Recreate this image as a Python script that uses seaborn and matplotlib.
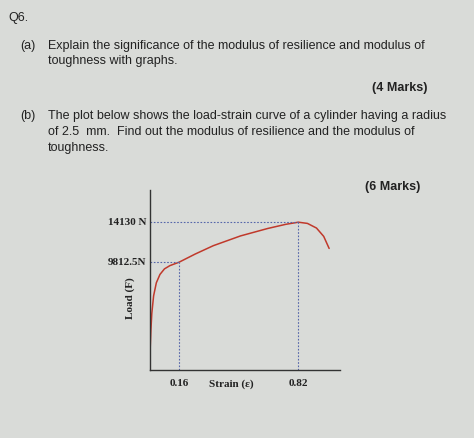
import numpy as np
import matplotlib
matplotlib.use("Agg")
import matplotlib.pyplot as plt
import seaborn as sns

# --- data ---
strain = [0.0, 0.005, 0.01, 0.02, 0.035, 0.055, 0.08, 0.11, 0.16, 0.25, 0.35, 0.5, 0.65, 0.75, 0.82, 0.87, 0.92, 0.96, 0.99]
load = [0, 2500, 4300, 6200, 7600, 8500, 9100, 9450, 9812.5, 10700, 11600, 12650, 13450, 13900, 14130, 14000, 13500, 12600, 11300]
yield_pt = (0.16, 9812.5)
ult_pt = (0.82, 14130)

sns.set_style("white")
plt.rcParams["font.family"] = ["Liberation Sans", "DejaVu Sans"]
bg = "#d9dbd8"

fig = plt.figure(figsize=(4.74, 4.38), dpi=100, facecolor=bg)

# question text
tc = "#222222"
fs = 9
fig.text(8/474, 1-18/438, "Q6.", fontsize=fs, color=tc, va="center")
fig.text(20/474, 1-46/438, "(a)", fontsize=fs, color=tc, va="center")
fig.text(48/474, 1-46/438, "Explain the significance of the modulus of resilience and modulus of",
         fontsize=fs, color=tc, va="center")
fig.text(48/474, 1-61/438, "toughness with graphs.", fontsize=fs, color=tc, va="center")
fig.text(428/474, 1-88/438, "(4 Marks)", fontsize=fs, color=tc, va="center", ha="right", weight="bold")
fig.text(20/474, 1-116/438, "(b)", fontsize=fs, color=tc, va="center")
fig.text(48/474, 1-116/438, "The plot below shows the load-strain curve of a cylinder having a radius",
         fontsize=fs, color=tc, va="center")
fig.text(48/474, 1-132/438, "of 2.5  mm.  Find out the modulus of resilience and the modulus of",
         fontsize=fs, color=tc, va="center")
fig.text(48/474, 1-148/438, "toughness.", fontsize=fs, color=tc, va="center")
fig.text(420/474, 1-187/438, "(6 Marks)", fontsize=fs, color=tc, va="center", ha="right", weight="bold")

# load-strain plot
ax = fig.add_axes([150/474, 1-370/438, 190/474, 180/438])
ax.set_facecolor(bg)
sns.lineplot(x=strain, y=load, ax=ax, color="#c0392b", linewidth=1.1, sort=False)
ax.set_xlim(0, 1.05)
ax.set_ylim(-1800, 17600)
for s in ["top", "right"]:
    ax.spines[s].set_visible(False)
for s in ["left", "bottom"]:
    ax.spines[s].set_color("#333333")
    ax.spines[s].set_linewidth(1.0)
ax.set_xticks([])
ax.set_yticks([])

dl = dict(color="#5566aa", linestyle=(0, (1.5, 1.5)), linewidth=0.8)
ax.plot([0, ult_pt[0]], [ult_pt[1], ult_pt[1]], **dl)
ax.plot([0, yield_pt[0]], [yield_pt[1], yield_pt[1]], **dl)
ax.plot([ult_pt[0], ult_pt[0]], [-1800, ult_pt[1]], **dl)
ax.plot([yield_pt[0], yield_pt[0]], [-1800, yield_pt[1]], **dl)

serif = dict(family="Liberation Serif", weight="bold", fontsize=8, color="#222222")
ax.text(-0.02, ult_pt[1], "14130 N", ha="right", va="center", **serif)
ax.text(-0.02, yield_pt[1], "9812.5N", ha="right", va="center", **serif)
ax.text(yield_pt[0], -3300, "0.16", ha="center", va="center", **serif)
ax.text(ult_pt[0], -3300, "0.82", ha="center", va="center", **serif)
ax.text(0.45, -3300, "Strain (ε)", ha="center", va="center", **serif)
ax.text(-0.11, 6000, "Load (F)", ha="center", va="center", rotation=90, **serif)

fig.savefig("out.png", dpi=100, facecolor=bg)
